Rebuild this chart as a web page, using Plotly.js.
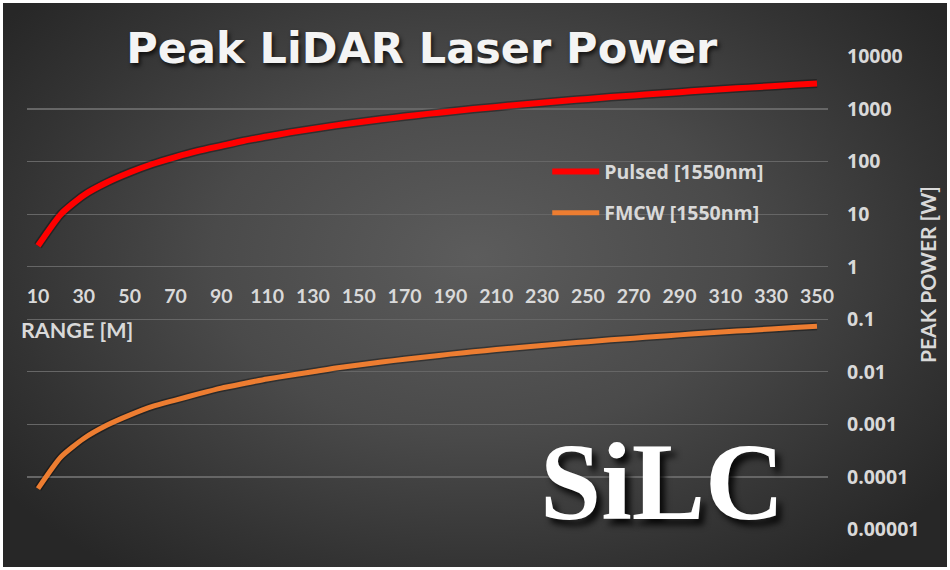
<!DOCTYPE html>
<html>
<head>
<meta charset="utf-8">
<script src="https://cdn.plot.ly/plotly-3.0.1.min.js"></script>
<style>
  html, body { margin: 0; padding: 0; background: #ffffff; }
  #bg { position: absolute; left: 3px; top: 3px; width: 944px; height: 564px;
        background: radial-gradient(ellipse 62% 70% at 50% 45%, #5c5c5c 0%, #4a4a4a 45%, #333333 80%, #272727 100%); }
  #chart { position: absolute; left: 0; top: 0; width: 950px; height: 570px; }
</style>
</head>
<body>
<div id="bg"></div>
<div id="chart"></div>
<script>
// Range in metres (data every 10 m)
const rangeM = [10,20,30,40,50,60,70,80,90,100,110,120,130,140,150,160,170,180,190,200,
                210,220,230,240,250,260,270,280,290,300,310,320,330,340,350];
// Pulsed [1550nm] peak power (W)
const pulsedW = [2.5,10,23,40,62,90,122,160,200,250,300,360,420,490,560,640,720,810,900,1000,
                 1100,1210,1320,1440,1560,1690,1820,1960,2100,2250,2400,2560,2720,2890,3060];
// FMCW [1550nm] peak power (W)
const fmcwW = [0.00006,0.00024,0.00054,0.00096,0.0015,0.0022,0.0029,0.0038,0.0049,0.006,
               0.0073,0.0086,0.010,0.0118,0.0135,0.0154,0.0173,0.0194,0.0217,0.024,
               0.0265,0.029,0.0317,0.0346,0.0375,0.0406,0.0437,0.047,0.0505,0.054,
               0.0577,0.0614,0.0653,0.0694,0.0735];
// Axis tick labels
const xTickVals = [10,30,50,70,90,110,130,150,170,190,210,230,250,270,290,310,330,350];
const yTickVals = [0.00001,0.0001,0.001,0.01,0.1,1,10,100,1000,10000];
const yTickText = ["0.00001","0.0001","0.001","0.01","0.1","1","10","100","1000","10000"];

const labelColor = "#d9d9d9";
const fam = "Lato, 'Open Sans', sans-serif";
const fam2 = "'Open Sans', Lato, sans-serif";

const traces = [
  {x: rangeM, y: pulsedW, mode: "lines", showlegend: false, hoverinfo: "skip",
   line: {color: "rgba(0,0,0,0.35)", width: 9, shape: "spline", smoothing: 0.6}},
  {x: rangeM, y: fmcwW, mode: "lines", showlegend: false, hoverinfo: "skip",
   line: {color: "rgba(0,0,0,0.35)", width: 8, shape: "spline", smoothing: 0.6}},
  {x: rangeM, y: pulsedW, mode: "lines", name: "Pulsed [1550nm]", legendgroup: "a",
   line: {color: "#ff0000", width: 6, shape: "spline", smoothing: 0.6}},
  {x: rangeM, y: fmcwW, mode: "lines", name: "FMCW [1550nm]", legendgroup: "b",
   line: {color: "#ed7d31", width: 5, shape: "spline", smoothing: 0.6}}
];

const layout = {
  width: 950, height: 570,
  margin: {l: 27, r: 122, t: 56, b: 40},
  paper_bgcolor: "rgba(0,0,0,0)",
  plot_bgcolor: "rgba(0,0,0,0)",
  font: {family: fam, color: labelColor},
  title: {text: "Peak LiDAR Laser Power", xref: "container", yref: "container",
          x: 0.444, xanchor: "center", y: 1 - 48/570, yanchor: "middle",
          font: {family: "'DejaVu Sans', 'Open Sans', sans-serif", size: 43, weight: 700, color: "#f4f4f4",
                 shadow: "2px 3px 4px rgba(0,0,0,0.7)"}},
  xaxis: {
    range: [5.2, 354.8], anchor: "free", position: 5.01/9.02,
    tickmode: "array", tickvals: xTickVals, ticktext: xTickVals.map(String),
    showgrid: false, zeroline: false, showline: false, ticks: "",
    ticklabelstandoff: 16,
    tickfont: {family: fam, size: 19.5, weight: 700, color: labelColor}
  },
  yaxis: {
    type: "log", range: [-5.01, 4.01], side: "right",
    tickmode: "array", tickvals: yTickVals, ticktext: yTickText,
    showgrid: true, gridcolor: "#666666", gridwidth: 1.3,
    zeroline: false, showline: false, ticks: "",
    ticklabelstandoff: 18,
    tickfont: {family: fam2, size: 19.5, weight: 700, color: labelColor}
  },
  legend: {x: 0.6495, xanchor: "left", y: 0.797, yanchor: "top",
           bgcolor: "rgba(0,0,0,0)", traceorder: "grouped", tracegroupgap: 13,
           itemwidth: 47,
           font: {family: fam2, size: 19.5, weight: 700, color: labelColor}},
  annotations: [
    {text: "RANGE [M]", xref: "paper", yref: "paper", x: -0.0095, y: (530-330)/474,
     xanchor: "left", yanchor: "middle", showarrow: false,
     font: {family: fam, size: 21.5, weight: 700, color: labelColor}},
    {text: "PEAK POWER [W]", xref: "paper", yref: "paper", x: (927-27)/801, y: (530-275)/474,
     xanchor: "center", yanchor: "middle", textangle: -90, showarrow: false,
     font: {family: fam, size: 21, weight: 700, color: labelColor}},
    {text: "SiLC", xref: "paper", yref: "paper", x: (662-27)/801, y: (530-482)/474,
     xanchor: "center", yanchor: "middle", showarrow: false,
     font: {family: "'Liberation Serif', 'DejaVu Serif', serif", size: 110, weight: 700, color: "#ffffff",
            shadow: "5px 6px 6px rgba(0,0,0,0.85)"}}
  ]
};

Plotly.newPlot("chart", traces, layout, {displayModeBar: false, staticPlot: true});
</script>
</body>
</html>
